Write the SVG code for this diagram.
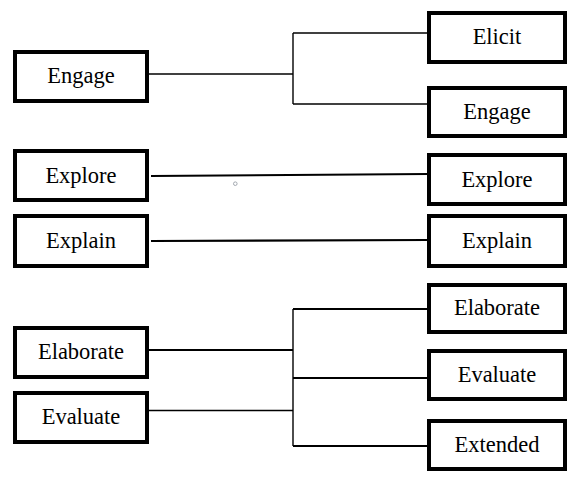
<svg xmlns="http://www.w3.org/2000/svg" width="583" height="482" viewBox="0 0 583 482">
<style>
  .box rect { fill: #ffffff; stroke: #000000; stroke-width: 4; }
  .box text { font-size: 22.5px; fill: #000000; text-anchor: middle; }
  .thin { stroke: #000000; stroke-width: 1.4; fill: none; }
  .thick { stroke: #000000; stroke-width: 2.2; fill: none; }
</style>
<rect x="0" y="0" width="583" height="482" fill="#ffffff"/>
<g id="connectors">
  <line class="thin" x1="149" y1="74" x2="293" y2="74"/>
  <line class="thin" x1="293" y1="33" x2="293" y2="104"/>
  <line class="thin" x1="293" y1="33" x2="428" y2="33"/>
  <line class="thin" x1="293" y1="104" x2="428" y2="104"/>
  <line class="thick" x1="151" y1="176" x2="428" y2="174"/>
  <line class="thick" x1="151" y1="241" x2="428" y2="240"/>
  <line class="thick" x1="149" y1="350" x2="293" y2="350"/>
  <line class="thin" x1="149" y1="410.5" x2="293" y2="410.5"/>
  <line class="thin" x1="293" y1="309" x2="293" y2="446"/>
  <line class="thick" x1="293" y1="309" x2="428" y2="309"/>
  <line class="thick" x1="293" y1="378" x2="428" y2="378"/>
  <line class="thick" x1="293" y1="446" x2="428" y2="446"/>
</g>
<circle cx="235.3" cy="183.7" r="1.8" fill="none" stroke="#9aa0a8" stroke-width="0.9"/>
<g font-family="Liberation Serif, DejaVu Serif, serif">
<g id="left-engage" class="box"><rect x="15" y="52" width="132" height="49"/><text x="81" y="83">Engage</text></g>
<g id="left-explore" class="box"><rect x="15" y="151" width="132" height="49"/><text x="81" y="182.5">Explore</text></g>
<g id="left-explain" class="box"><rect x="15" y="216" width="132" height="50"/><text x="81" y="248">Explain</text></g>
<g id="left-elaborate" class="box"><rect x="15" y="328" width="132" height="49"/><text x="81" y="359">Elaborate</text></g>
<g id="left-evaluate" class="box"><rect x="15" y="393" width="132" height="49"/><text x="81" y="424">Evaluate</text></g>
<g id="right-elicit" class="box"><rect x="429" y="13" width="136" height="49"/><text x="497" y="44">Elicit</text></g>
<g id="right-engage" class="box"><rect x="429" y="88" width="136" height="48"/><text x="497" y="119">Engage</text></g>
<g id="right-explore" class="box"><rect x="429" y="155" width="136" height="49"/><text x="497" y="186.5">Explore</text></g>
<g id="right-explain" class="box"><rect x="429" y="216" width="136" height="50"/><text x="497" y="248">Explain</text></g>
<g id="right-elaborate" class="box"><rect x="429" y="285" width="136" height="47"/><text x="497" y="315">Elaborate</text></g>
<g id="right-evaluate" class="box"><rect x="429" y="351" width="136" height="48"/><text x="497" y="382">Evaluate</text></g>
<g id="right-extended" class="box"><rect x="429" y="421" width="136" height="48"/><text x="497" y="452">Extended</text></g>
</g>
</svg>
